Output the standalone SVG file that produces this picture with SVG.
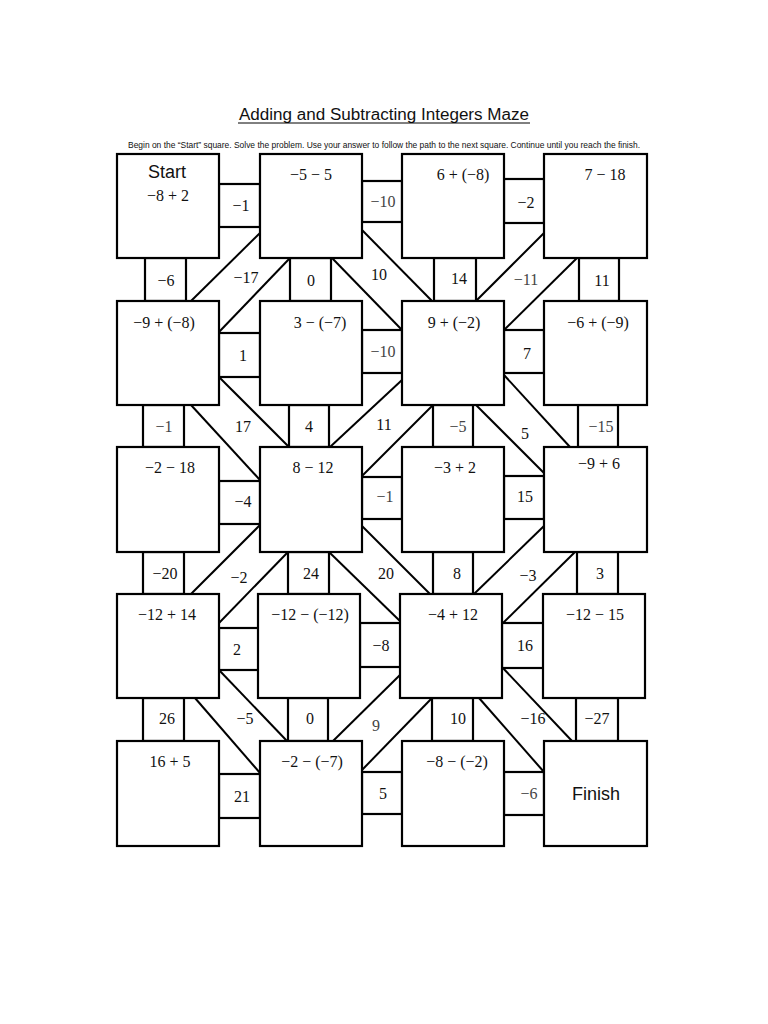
<svg xmlns="http://www.w3.org/2000/svg" width="768" height="1024" viewBox="0 0 768 1024">
<style>
.b{fill:#fff;stroke:#000;stroke-width:2.2}
.c{fill:#fff;stroke:#000;stroke-width:2.2}
.d{stroke:#000;stroke-width:2;fill:none}
text{font-family:"Liberation Serif",serif;font-size:16px;text-anchor:middle;fill:#111}
.s{font-family:"Liberation Sans",Arial,sans-serif;font-size:18px}
.g{fill:#444}
</style>
<rect width="768" height="1024" fill="#fff"/>
<text class="s" x="384" y="120" style="font-size:16px" textLength="290" lengthAdjust="spacingAndGlyphs">Adding and Subtracting Integers Maze</text>
<line x1="238" y1="123" x2="530" y2="123" stroke="#000" stroke-width="1"/>
<text class="s" x="384" y="148" style="font-size:9px" textLength="512" lengthAdjust="spacingAndGlyphs">Begin on the “Start” square.  Solve the problem.  Use your answer to follow the path to the next square.  Continue until you reach the finish.</text>
<g id="connectors">
<line class="d" x1="260" y1="233" x2="191" y2="301"/><line class="d" x1="290" y1="258" x2="219" y2="332"/>
<line class="d" x1="362" y1="230" x2="432" y2="301"/><line class="d" x1="332" y1="258" x2="402" y2="330"/>
<line class="d" x1="544" y1="233" x2="476" y2="301"/><line class="d" x1="577" y1="258" x2="504" y2="330"/>
<line class="d" x1="219" y1="377" x2="289" y2="447"/><line class="d" x1="191" y1="405" x2="260" y2="480"/>
<line class="d" x1="402" y1="380" x2="330" y2="447"/><line class="d" x1="433" y1="405" x2="362" y2="476"/>
<line class="d" x1="504" y1="375" x2="570" y2="447"/><line class="d" x1="476" y1="405" x2="544" y2="473"/>
<line class="d" x1="260" y1="525" x2="191" y2="594"/><line class="d" x1="288" y1="552" x2="219" y2="623"/>
<line class="d" x1="362" y1="526" x2="430" y2="594"/><line class="d" x1="329" y1="552" x2="402" y2="623"/>
<line class="d" x1="544" y1="526" x2="474" y2="594"/><line class="d" x1="575" y1="552" x2="503" y2="623"/>
<line class="d" x1="219" y1="670" x2="287" y2="741"/><line class="d" x1="195" y1="698" x2="260" y2="773"/>
<line class="d" x1="402" y1="673" x2="333" y2="741"/><line class="d" x1="432" y1="698" x2="362" y2="770"/>
<line class="d" x1="502" y1="667" x2="572" y2="741"/><line class="d" x1="479" y1="698" x2="544" y2="772"/>
<rect class="c" x="219" y="184" width="41" height="43"/><rect class="c" x="362" y="181" width="40" height="41"/><rect class="c" x="504" y="179" width="40" height="44"/>
<rect class="c" x="219" y="333" width="41" height="44"/><rect class="c" x="362" y="330" width="40" height="43"/><rect class="c" x="504" y="330" width="40" height="43"/>
<rect class="c" x="219" y="481" width="41" height="43"/><rect class="c" x="362" y="477" width="40" height="42"/><rect class="c" x="504" y="476" width="40" height="43"/>
<rect class="c" x="219" y="628" width="41" height="42"/><rect class="c" x="360" y="623" width="42" height="44"/><rect class="c" x="502" y="623" width="42" height="45"/>
<rect class="c" x="219" y="774" width="41" height="44"/><rect class="c" x="362" y="772" width="40" height="42"/><rect class="c" x="504" y="772" width="40" height="43"/>
<rect class="c" x="145" y="258" width="41" height="43"/><rect class="c" x="290" y="258" width="41" height="43"/><rect class="c" x="434" y="258" width="42" height="43"/><rect class="c" x="579" y="258" width="40" height="43"/>
<rect class="c" x="143" y="405" width="41" height="42"/><rect class="c" x="289" y="405" width="40" height="42"/><rect class="c" x="433" y="405" width="40" height="42"/><rect class="c" x="578" y="405" width="40" height="42"/>
<rect class="c" x="143" y="552" width="41" height="42"/><rect class="c" x="288" y="552" width="41" height="42"/><rect class="c" x="433" y="552" width="40" height="42"/><rect class="c" x="577" y="552" width="41" height="42"/>
<rect class="c" x="143" y="698" width="41" height="43"/><rect class="c" x="288" y="698" width="40" height="43"/><rect class="c" x="432" y="698" width="41" height="43"/><rect class="c" x="576" y="698" width="42" height="43"/>
<text x="241" y="211">−1</text><text class="g" x="383" y="207">−10</text><text x="526" y="208">−2</text>
<text x="166" y="286">−6</text><text x="246" y="283">−17</text><text x="311" y="286">0</text><text x="379" y="280">10</text><text x="459" y="284">14</text><text class="g" x="526" y="285">−11</text><text x="602" y="286">11</text>
<text x="243" y="361">1</text><text class="g" x="383" y="357">−10</text><text x="527" y="359">7</text>
<text class="g" x="164" y="432">−1</text><text x="243" y="432">17</text><text x="309" y="432">4</text><text x="384" y="430">11</text><text class="g" x="458" y="432">−5</text><text x="525" y="439">5</text><text class="g" x="601" y="432">−15</text>
<text x="243" y="507">−4</text><text class="g" x="385" y="502">−1</text><text x="525" y="502">15</text>
<text x="165" y="579">−20</text><text x="239" y="583">−2</text><text x="311" y="579">24</text><text x="386" y="579">20</text><text x="457" y="579">8</text><text x="528" y="581">−3</text><text x="600" y="579">3</text>
<text x="237" y="655">2</text><text x="381" y="651">−8</text><text x="525" y="651">16</text>
<text x="167" y="724">26</text><text x="245" y="724">−5</text><text x="310" y="724">0</text><text class="g" x="376" y="731">9</text><text x="458" y="724">10</text><text x="533" y="724">−16</text><text x="597" y="724">−27</text>
<text x="242" y="802">21</text><text x="383" y="799">5</text><text class="g" x="529" y="799">−6</text>
</g>
<g id="n00"><rect class="b" x="117" y="154" width="102" height="104"/><text class="s" x="167" y="178">Start</text><text x="168" y="201">−8 + 2</text></g>
<g id="n01"><rect class="b" x="260" y="154" width="102" height="104"/><text x="311" y="180">−5 − 5</text></g>
<g id="n02"><rect class="b" x="402" y="154" width="102" height="104"/><text x="463" y="180">6 + (−8)</text></g>
<g id="n03"><rect class="b" x="544" y="154" width="103" height="104"/><text x="605" y="180">7 − 18</text></g>
<g id="n10"><rect class="b" x="117" y="301" width="102" height="104"/><text x="164" y="328">−9 + (−8)</text></g>
<g id="n11"><rect class="b" x="260" y="301" width="102" height="104"/><text x="320" y="328">3 − (−7)</text></g>
<g id="n12"><rect class="b" x="402" y="301" width="102" height="104"/><text x="454" y="328">9 + (−2)</text></g>
<g id="n13"><rect class="b" x="544" y="301" width="103" height="104"/><text x="598" y="328">−6 + (−9)</text></g>
<g id="n20"><rect class="b" x="117" y="447" width="102" height="105"/><text x="170" y="473">−2 − 18</text></g>
<g id="n21"><rect class="b" x="260" y="447" width="102" height="105"/><text x="313" y="473">8 − 12</text></g>
<g id="n22"><rect class="b" x="402" y="447" width="102" height="105"/><text x="455" y="473">−3 + 2</text></g>
<g id="n23"><rect class="b" x="544" y="447" width="103" height="105"/><text x="599" y="469">−9 + 6</text></g>
<g id="n30"><rect class="b" x="117" y="594" width="102" height="104"/><text x="167" y="620">−12 + 14</text></g>
<g id="n31"><rect class="b" x="258" y="594" width="102" height="104"/><text x="310" y="620">−12 − (−12)</text></g>
<g id="n32"><rect class="b" x="400" y="594" width="102" height="104"/><text x="453" y="620">−4 + 12</text></g>
<g id="n33"><rect class="b" x="543" y="594" width="102" height="104"/><text x="595" y="620">−12 − 15</text></g>
<g id="n40"><rect class="b" x="117" y="741" width="102" height="105"/><text x="170" y="767">16 + 5</text></g>
<g id="n41"><rect class="b" x="260" y="741" width="102" height="105"/><text x="312" y="767">−2 − (−7)</text></g>
<g id="n42"><rect class="b" x="402" y="741" width="102" height="105"/><text x="457" y="767">−8 − (−2)</text></g>
<g id="n43"><rect class="b" x="544" y="741" width="103" height="105"/><text class="s" x="596" y="800">Finish</text></g>
</svg>
